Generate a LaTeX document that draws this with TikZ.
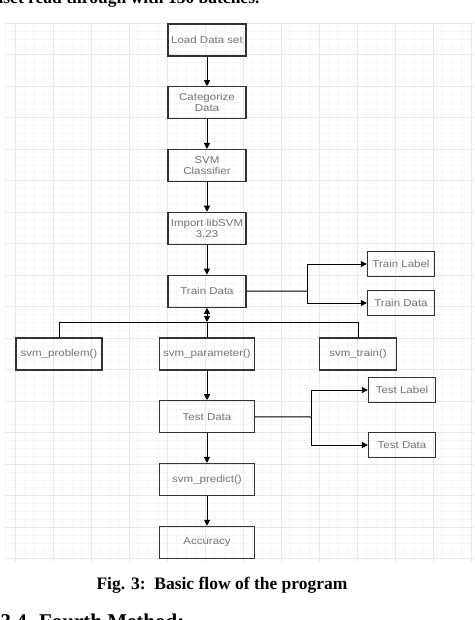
\documentclass[tikz,border=0pt]{standalone}
\usepackage{fontspec}
\setmainfont{Liberation Serif}
\newfontfamily\boxfont[FakeStretch=1.15]{Liberation Sans}
\usetikzlibrary{arrows.meta,backgrounds}

\begin{document}
\begin{tikzpicture}[x=1pt, y=-1pt, node distance=62.8pt,
  box/.style={rectangle, draw=black!80, line width=1.3pt, minimum height=32pt,
              text=black!55, font=\boxfont\fontsize{10}{11}\selectfont, align=center, inner sep=1pt},
  side/.style={box, minimum width=67pt, minimum height=25pt},
  arr/.style={-{Triangle[length=6pt,width=6pt]}, line width=1pt},
  link/.style={line width=1pt}]
  \useasboundingbox (0,0) rectangle (474,620);

  % grid paper behind the chart
  \foreach \gx in {5.5,15,...,474} \draw[gray!6, line width=.4pt] (\gx,23) -- (\gx,562);
  \foreach \gy in {23,30.875,...,562} \draw[gray!6, line width=.4pt] (5,\gy) -- (474,\gy);
  \foreach \gx in {15,53,...,474} \draw[gray!17, line width=.6pt] (\gx,23) -- (\gx,562);
  \foreach \gy in {23,54.5,...,562} \draw[gray!17, line width=.6pt] (5,\gy) -- (474,\gy);

  \node[box, minimum width=78pt] at (207,40) (load) {Load Data set};
  \node[box, minimum width=78pt, below of=load] (cat) {Categorize\\Data};
  \node[box, minimum width=78pt, below of=cat] (svm) {SVM\\Classifier};
  \node[box, minimum width=78pt, below of=svm] (lib) {Import libSVM\\3.23};
  \node[box, minimum width=78pt, below of=lib] (train) {Train Data};

  \node[side] at (401,264) (trlabel) {Train Label};
  \node[side] at (401,303) (trdata) {Train Data};

  \node[box, minimum width=95pt, below of=train] (param) {svm\_parameter()};
  \node[box, minimum width=86pt] at (59,354) (prob) {svm\_problem()};
  \node[box, minimum width=77pt] at (358,354) (svmtrain) {svm\_train()};

  \node[box, minimum width=95pt, below of=param] (test) {Test Data};
  \node[side] at (402,390) (telabel) {Test Label};
  \node[side] at (402,445) (tedata) {Test Data};

  \node[box, minimum width=95pt, below of=test] (pred) {svm\_predict()};
  \node[box, minimum width=95pt, below of=pred] (acc) {Accuracy};

  \draw[arr] (load) -- (cat);
  \draw[arr] (cat) -- (svm);
  \draw[arr] (svm) -- (lib);
  \draw[arr] (lib) -- (train);

  \coordinate (split1) at (307,291);
  \draw[link] (train.east) -- (split1);
  \draw[arr] (split1) |- (trlabel.west);
  \draw[arr] (split1) |- (trdata.west);

  \coordinate (bar) at (207,322);
  \coordinate (barL) at (prob.north |- bar);
  \coordinate (barR) at (svmtrain.north |- bar);
  \draw[{Triangle[length=6pt,width=6pt]}-{Triangle[length=6pt,width=6pt]}, line width=1pt] (train.south) -- (bar);
  \draw[link] (prob.north) -- (barL) -- (barR) -- (svmtrain.north);
  \draw[link] (bar) -- (param.north);

  \draw[arr] (param) -- (test);
  \coordinate (split2) at (311,417);
  \draw[link] (test.east) -- (split2);
  \draw[arr] (split2) |- (telabel.west);
  \draw[arr] (split2) |- (tedata.west);

  \draw[arr] (test) -- (pred);
  \draw[arr] (pred) -- (acc);

  % surrounding text of the page
  \node[anchor=base east, font=\bfseries\fontsize{17.5}{19}\selectfont] at (263,4) (prevline) {dataset read through with 150 batches.};
  \node[font=\bfseries\fontsize{17.5}{19}\selectfont] at (222,585) (caption) {Fig. 3:\ \ Basic flow of the program};
  \node[anchor=base west, font=\bfseries\fontsize{21}{23}\selectfont] at (-3,628) (section) {3.4. Fourth Method:};
\end{tikzpicture}
\end{document}
